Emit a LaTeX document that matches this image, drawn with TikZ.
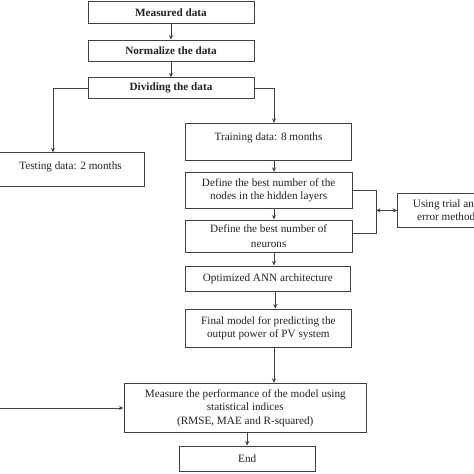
\documentclass[tikz,border=0pt]{standalone}
\usepackage{fontspec}
\setmainfont{Liberation Serif}
\usetikzlibrary{arrows.meta,calc}
\definecolor{ln}{HTML}{404040}
\definecolor{tx}{HTML}{222222}
\begin{document}
\begin{tikzpicture}[x=1pt,y=-1pt,
  box/.style={draw=ln,line width=0.9pt,rectangle,inner sep=0pt,align=center,
    text=tx,font=\fontsize{11.2}{13.4}\selectfont},
  bbox/.style={box,font=\fontsize{11.2}{13.4}\selectfont\bfseries},
  arr/.style={draw=ln,line width=0.9pt,-{Stealth[length=4.5pt,width=4pt]}},
  darr/.style={draw=ln,line width=0.9pt,{Stealth[length=4.5pt,width=4pt]}-{Stealth[length=4.5pt,width=4pt]}},
  ln/.style={draw=ln,line width=0.9pt}]
\useasboundingbox (0,0) rectangle (474,474);
\clip (0,0) rectangle (474,474);
\node[bbox,minimum width=166pt,minimum height=21.8pt] (meas) at (171,12.4) {Measured data};
\node[bbox,minimum width=166pt,minimum height=21pt] (norm) at (171,50.5) {Normalize the data};
\node[bbox,minimum width=166pt,minimum height=20.6pt] (div) at (171,88) {Dividing the data};
\node[box,minimum width=147pt,minimum height=34pt] (test) at (70.5,169.7) {Testing data: 2 months\\[-5pt]\mbox{}};
\node[box,minimum width=166.4pt,minimum height=36.7pt] (train) at (268.5,141.7) {Training data: 8 months\\[-3pt]\mbox{}};
\node[box,minimum width=166.7pt,minimum height=36pt] (def1) at (268.7,190.3) {Define the best number of the\\nodes in the hidden layers};
\node[box,minimum width=166.7pt,minimum height=32.7pt] (def2) at (268.7,236.3) {Define the best number of\\[2pt]neurons};
\node[box,minimum width=164.3pt,minimum height=25.7pt] (opt) at (267.9,278.8) {Optimized ANN architecture};
\node[box,minimum width=165.3pt,minimum height=38pt] (fin) at (268.4,328) {Final model for predicting the\\output power of PV system};
\node[box,minimum width=242.7pt,minimum height=49.3pt] (perf) at (245.3,408) {Measure the performance of the model using\\statistical indices\\(RMSE, MAE and R-squared)};
\node[box,minimum width=136.3pt,minimum height=25.7pt] (end) at (247.2,458.8) {End};
\node[box,minimum width=97pt,minimum height=34pt] (trial) at (446.2,210.3) {Using trial and\\error method};
\coordinate (cx) at (274,0);
\coordinate (lx) at (53,0);
\coordinate (bx) at (376,0);
\coordinate (ox) at (-10,0);
\draw[arr] (meas) -- (norm);
\draw[arr] (norm) -- (div);
\draw[arr] (div.west) -| (test.north -| lx);
\draw[arr] (div.east) -| (train.north -| cx);
\draw[arr] (train.south -| cx) -- (def1.north -| cx);
\draw[arr] (def1.south -| cx) -- (def2.north -| cx);
\draw[arr] (def2.south -| cx) -- (opt.north -| cx);
\draw[arr] ($(opt.south -| cx)+(1.3,0)$) -- ($(fin.north -| cx)+(1.3,0)$);
\draw[arr] (fin.south -| cx) -- (perf.north -| cx);
\draw[arr] (perf.south -| end.north) -- (end.north);
\draw[ln] ($(def1.east)+(0,-0.3)$) -| ($(def2.east -| bx)+(0,-3)$) -- ($(def2.east)+(0,-3)$);
\draw[darr] (trial.west -| bx) -- (trial.west);
\draw[arr] (test.south -| ox) |- (perf.west);
\end{tikzpicture}
\end{document}
